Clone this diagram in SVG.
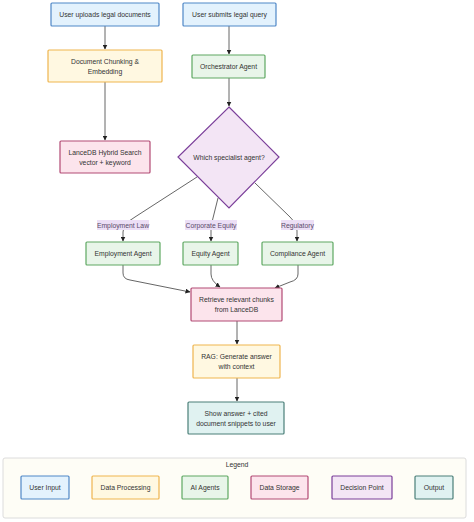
<svg xmlns="http://www.w3.org/2000/svg" width="474" height="522" viewBox="0 0 474 522">
<style>
text{font-family:"Liberation Sans",Arial,sans-serif;font-size:6.8px;fill:#333;text-anchor:middle;dominant-baseline:central}
.in{fill:#e3f2fd;stroke:#4f87c7;stroke-width:1.2}
.pr{fill:#fff8e1;stroke:#efb54f;stroke-width:1.2}
.ag{fill:#e8f5e9;stroke:#5ea862;stroke-width:1.2}
.st{fill:#fce4ec;stroke:#b24a74;stroke-width:1.2}
.de{fill:#f3e5f5;stroke:#7b3f9a;stroke-width:1.2}
.ou{fill:#e0f2f1;stroke:#4a7f78;stroke-width:1.2}
.e{fill:none;stroke:#555;stroke-width:0.9}
.lb{fill:#ecdff6}
.lt{fill:#5a4a6a}
</style>
<defs>
<marker id="ah" viewBox="0 0 10 10" refX="9" refY="5" markerWidth="5" markerHeight="5" orient="auto" markerUnits="userSpaceOnUse">
<path d="M0,0 L10,5 L0,10 z" fill="#222"/>
</marker>
</defs>
<rect width="474" height="522" fill="#fff"/>
<g id="connectors">
<path class="e" d="M105,26 L105,49" marker-end="url(#ah)"/>
<path class="e" d="M229,26 L229,54" marker-end="url(#ah)"/>
<path class="e" d="M105,82 L105,140" marker-end="url(#ah)"/>
<path class="e" d="M229,78 L229,106" marker-end="url(#ah)"/>
<path class="e" d="M197,177 L135,217 Q123,224 123,232 L123,241" marker-end="url(#ah)"/>
<path class="e" d="M218,198 L213,218 Q211,224 211,230 L211,241" marker-end="url(#ah)"/>
<path class="e" d="M255,183 L290,217 Q297,224 297,231 L297,241" marker-end="url(#ah)"/>
<path class="e" d="M123,265 L123,273 Q123,279 130,280 L190,292" marker-end="url(#ah)"/>
<path class="e" d="M211,265 L211,274 Q211,281 220,287" marker-end="url(#ah)"/>
<path class="e" d="M298,265 L298,274 Q298,280 290,282 L275,288" marker-end="url(#ah)"/>
<path class="e" d="M237,321 L237,344" marker-end="url(#ah)"/>
<path class="e" d="M237,378 L237,401" marker-end="url(#ah)"/>
</g>
<g id="label-employment-law"><rect class="lb" x="97" y="220" width="52" height="10"/><text class="lt" x="123" y="225">Employment Law</text></g>
<g id="label-corporate-equity"><rect class="lb" x="185" y="220" width="52" height="10"/><text class="lt" x="211" y="225">Corporate Equity</text></g>
<g id="label-regulatory"><rect class="lb" x="281" y="220" width="33" height="10"/><text class="lt" x="297.5" y="225">Regulatory</text></g>
<g id="upload"><rect class="in" x="51" y="3" width="108" height="23" rx="1"/><text x="105" y="14.5">User uploads legal documents</text></g>
<g id="query"><rect class="in" x="183" y="3" width="93" height="23" rx="1"/><text x="229.5" y="14.5">User submits legal query</text></g>
<g id="chunking"><rect class="pr" x="48" y="50" width="114" height="32" rx="1"/><text x="105" y="61">Document Chunking &amp;</text><text x="105" y="71">Embedding</text></g>
<g id="orchestrator"><rect class="ag" x="192" y="55" width="73" height="23" rx="1"/><text x="228.5" y="66.5">Orchestrator Agent</text></g>
<g id="lancedb"><rect class="st" x="60" y="141" width="90" height="32" rx="1"/><text x="105" y="152">LanceDB Hybrid Search</text><text x="105" y="162">vector + keyword</text></g>
<g id="decision"><path class="de" d="M229,107 L279,157 L229,208 L178,157 Z"/><text x="229" y="157">Which specialist agent?</text></g>
<g id="employment"><rect class="ag" x="86" y="242" width="74" height="23" rx="1"/><text x="123" y="253.5">Employment Agent</text></g>
<g id="equity"><rect class="ag" x="183" y="242" width="55" height="23" rx="1"/><text x="210.5" y="253.5">Equity Agent</text></g>
<g id="compliance"><rect class="ag" x="262" y="242" width="71" height="23" rx="1"/><text x="297.5" y="253.5">Compliance Agent</text></g>
<g id="retrieve"><rect class="st" x="191" y="288" width="91" height="33" rx="1"/><text x="236.5" y="299">Retrieve relevant chunks</text><text x="236.5" y="309">from LanceDB</text></g>
<g id="rag"><rect class="pr" x="193" y="345" width="87" height="33" rx="1"/><text x="236.5" y="356">RAG: Generate answer</text><text x="236.5" y="366">with context</text></g>
<g id="show"><rect class="ou" x="188" y="402" width="96" height="32" rx="1"/><text x="236" y="413">Show answer + cited</text><text x="236" y="423">document snippets to user</text></g>
<g id="legend">
<rect x="3" y="458" width="463" height="60" rx="2" fill="#fefdf6" stroke="#dcdcdc" stroke-width="1"/>
<text x="237" y="464">Legend</text>
<g id="lg-input"><rect class="in" x="21" y="476" width="48" height="23" rx="1"/><text x="45" y="487.5">User Input</text></g>
<g id="lg-proc"><rect class="pr" x="92" y="476" width="67" height="23" rx="1"/><text x="125.5" y="487.5">Data Processing</text></g>
<g id="lg-agents"><rect class="ag" x="182" y="476" width="46" height="23" rx="1"/><text x="205" y="487.5">AI Agents</text></g>
<g id="lg-storage"><rect class="st" x="251" y="476" width="57" height="23" rx="1"/><text x="279.5" y="487.5">Data Storage</text></g>
<g id="lg-decision"><rect class="de" x="332" y="476" width="60" height="23" rx="1"/><text x="362" y="487.5">Decision Point</text></g>
<g id="lg-output"><rect class="ou" x="415" y="476" width="38" height="23" rx="1"/><text x="434" y="487.5">Output</text></g>
</g>
</svg>
